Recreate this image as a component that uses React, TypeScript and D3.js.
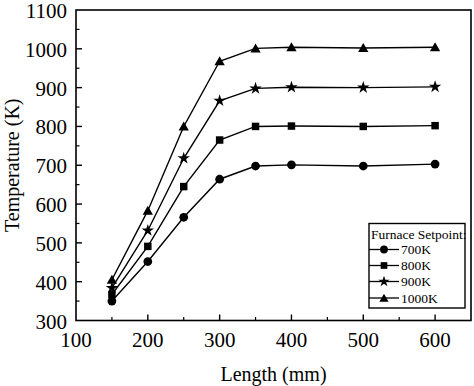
import React from 'react';
import * as d3 from 'd3';

const lengths = [150, 200, 250, 300, 350, 400, 500, 600];
const temp700 = [350, 452, 566, 664, 698, 701, 698, 703];
const temp800 = [367, 491, 645, 765, 800, 801, 800, 802];
const temp900 = [384, 532, 718, 866, 898, 901, 900, 902];
const temp1000 = [405, 583, 800, 968, 1001, 1004, 1002, 1004];

const seriesNames = ['700K', '800K', '900K', '1000K'];
const xTicks = [100, 200, 300, 400, 500, 600];
const yTicks = [300, 400, 500, 600, 700, 800, 900, 1000, 1100];

const W = 474;
const H = 386;
const left = 76;
const right = 471;
const top = 10;
const bottom = 320.5;

const serif = { fontFamily: "'Liberation Serif', 'DejaVu Serif', serif" };

const series = [
  { name: seriesNames[0], values: temp700, symbol: d3.symbolCircle, size: 60 },
  { name: seriesNames[1], values: temp800, symbol: d3.symbolSquare, size: 56 },
  { name: seriesNames[2], values: temp900, symbol: d3.symbolStar, size: 48 },
  { name: seriesNames[3], values: temp1000, symbol: d3.symbolTriangle, size: 46 },
];

export default function App() {
  const x = d3.scaleLinear().domain([100, 650]).range([left, right]);
  const y = d3.scaleLinear().domain([300, 1100]).range([bottom, top]);

  const line = d3
    .line<number>()
    .x((_, i) => x(lengths[i]))
    .y((d) => y(d));

  const xMinor = d3.range(150, 650, 100);
  const yMinor = d3.range(350, 1100, 100);

  const legendX = 369;
  const legendY = 223.5;
  const legendW = 96;
  const legendH = 84.5;
  const rowY = [249.5, 265.5, 281.5, 298];

  return (
    <div style={{ position: 'absolute', left: 0, top: 0 }}>
      <svg width={W} height={H} style={{ display: 'block', background: '#fff' }}>
        {/* data lines */}
        {series.map((s) => (
          <path key={s.name} d={line(s.values) || ''} fill="none" stroke="#000" strokeWidth={1.4} />
        ))}
        {/* markers */}
        {series.map((s) =>
          s.values.map((v, i) => (
            <path
              key={s.name + i}
              d={d3.symbol(s.symbol, s.size)() || ''}
              transform={`translate(${x(lengths[i])},${y(v) + (s.symbol === d3.symbolTriangle ? 1 : 0)})`}
              fill="#000"
            />
          ))
        )}

        {/* frame */}
        <rect x={left} y={top} width={right - left} height={bottom - top} fill="none" stroke="#000" strokeWidth={1.6} />

        {/* x ticks */}
        {xTicks.map((t) => (
          <g key={'xt' + t}>
            {t > 100 && <line x1={x(t)} x2={x(t)} y1={bottom} y2={bottom - 6} stroke="#000" strokeWidth={1.4} />}
            <text x={x(t)} y={346.5} textAnchor="middle" style={serif} fontSize={21}>
              {t}
            </text>
          </g>
        ))}
        {xMinor.map((t) => (
          <line key={'xm' + t} x1={x(t)} x2={x(t)} y1={bottom} y2={bottom - 3.5} stroke="#000" strokeWidth={1.2} />
        ))}

        {/* y ticks */}
        {yTicks.map((t) => (
          <g key={'yt' + t}>
            {t > 300 && t < 1100 && (
              <line x1={left} x2={left + 6} y1={y(t)} y2={y(t)} stroke="#000" strokeWidth={1.4} />
            )}
            <text x={67} y={y(t) + 8} textAnchor="end" style={serif} fontSize={21}>
              {t}
            </text>
          </g>
        ))}
        {yMinor.map((t) => (
          <line key={'ym' + t} x1={left} x2={left + 3.5} y1={y(t)} y2={y(t)} stroke="#000" strokeWidth={1.2} />
        ))}

        {/* axis titles */}
        <text x={(left + right) / 2} y={381} textAnchor="middle" style={serif} fontSize={20}>
          Length (mm)
        </text>
        <text
          transform={`translate(19,${(top + bottom) / 2}) rotate(-90)`}
          textAnchor="middle"
          style={serif}
          fontSize={20}
        >
          Temperature (K)
        </text>

        {/* legend */}
        <rect x={legendX} y={legendY} width={legendW} height={legendH} fill="#fff" stroke="#000" strokeWidth={1.4} />
        <text x={legendX + 2} y={238.5} style={serif} fontSize={13.5}>
          Furnace Setpoint:
        </text>
        {series.map((s, i) => (
          <g key={'lg' + s.name}>
            <line x1={legendX} x2={legendX + 30} y1={rowY[i]} y2={rowY[i]} stroke="#000" strokeWidth={1.3} />
            <path
              d={d3.symbol(s.symbol, s.size * 0.8)() || ''}
              transform={`translate(${legendX + 15},${rowY[i] + (s.symbol === d3.symbolTriangle ? 1 : 0)})`}
              fill="#000"
            />
            <text x={legendX + 32} y={rowY[i] + 4.5} style={serif} fontSize={13.5}>
              {s.name}
            </text>
          </g>
        ))}
      </svg>
    </div>
  );
}
